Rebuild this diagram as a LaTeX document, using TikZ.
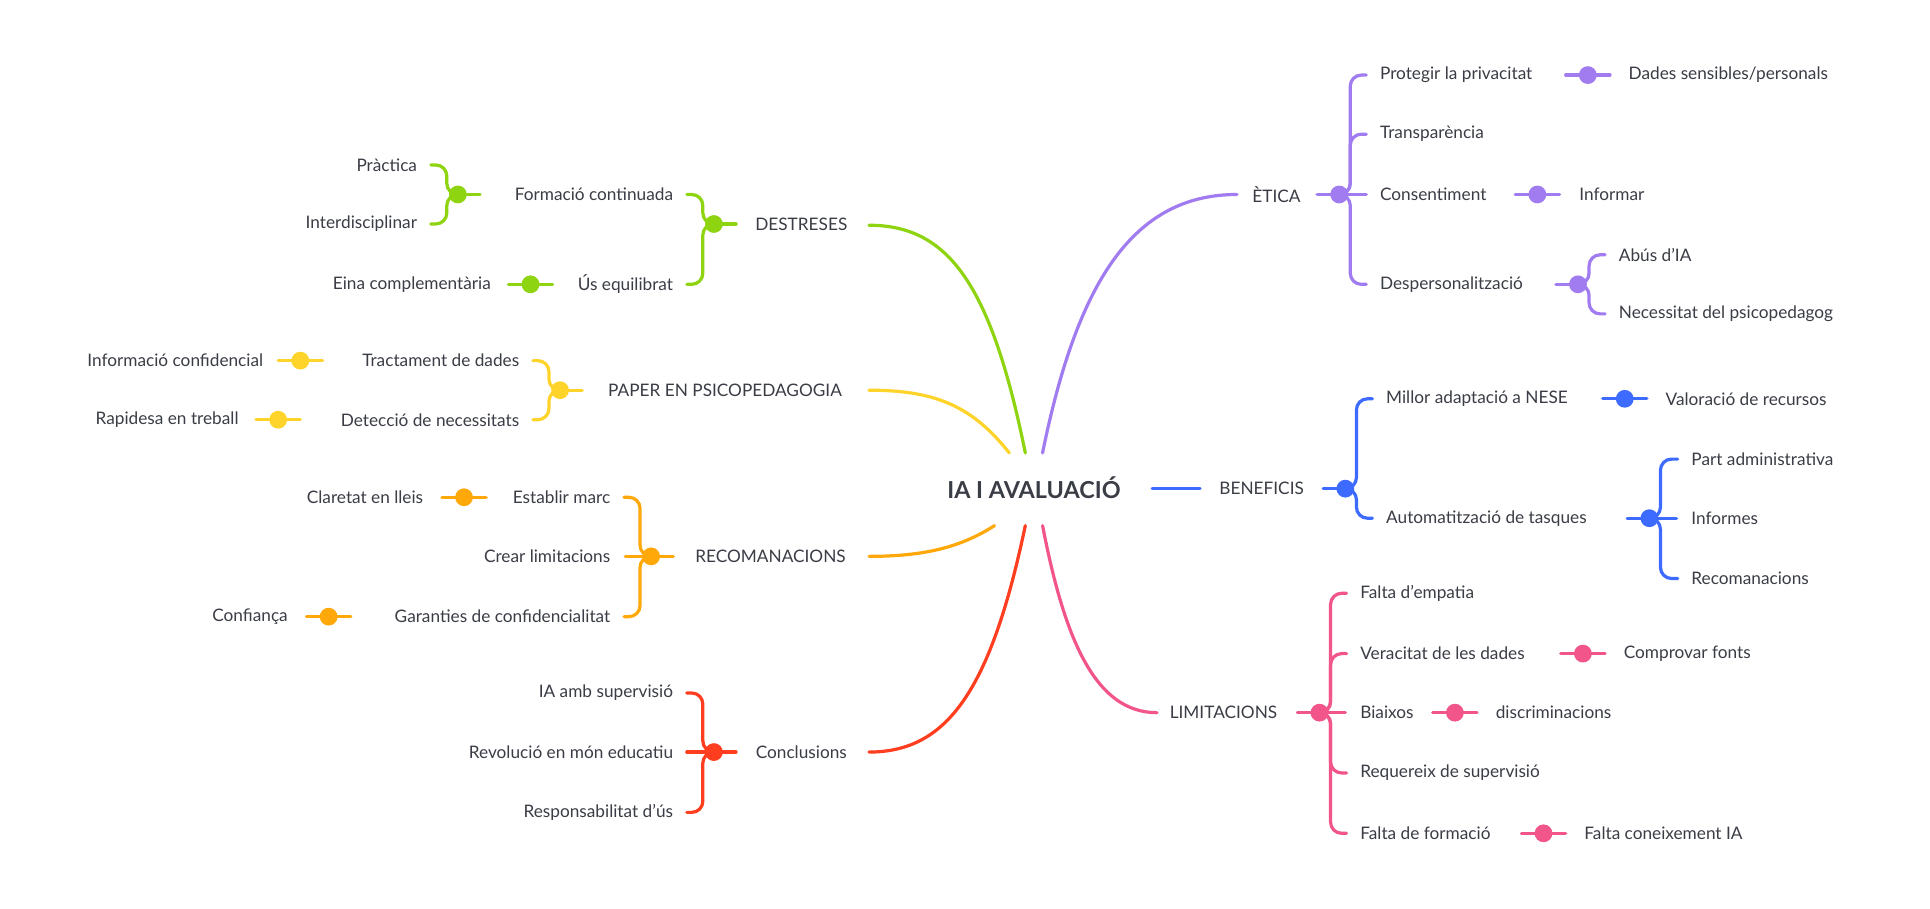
\documentclass[tikz,border=0pt]{standalone}
\usepackage{fontspec}
\setmainfont{Lato}
\definecolor{tc}{HTML}{3A3D45}
\definecolor{cg}{HTML}{8FD410}
\definecolor{cy}{HTML}{FFD42A}
\definecolor{co}{HTML}{FFA80A}
\definecolor{cr}{HTML}{FF3D1F}
\definecolor{cp}{HTML}{A07CF0}
\definecolor{cb}{HTML}{3D6BFF}
\definecolor{ck}{HTML}{F2558A}
\tikzset{
 ln/.style={line width=2.6pt,line cap=round},
 jn/.style={circle,draw,fill=white,minimum size=12pt,inner sep=0pt,line width=2.4pt},
 tr/.style={anchor=west,text=tc,font=\fontsize{14}{16}\selectfont,inner sep=0pt},
 tl/.style={anchor=east,text=tc,font=\fontsize{14}{16}\selectfont,inner sep=0pt},
 tm/.style={text=tc,font=\fontsize{14}{16}\selectfont,inner sep=0pt}
}
% right bracket: color, cx, cy, tx, ty
\newcommand\brR[5]{\draw[ln,#1,rounded corners=9pt] (#2,#3) -- (#2+9,#3) |- (#4-11,#5);}
\newcommand\brL[5]{\draw[ln,#1,rounded corners=9pt] (#2,#3) -- (#2-9,#3) |- (#4+11,#5);}
\newcommand\seg[3]{\draw[ln,#1] (#2-18,#3) -- (#2+18,#3); \node[jn,#1] at (#2,#3) {};}
\newcommand\jun[3]{\node[jn,#1] at (#2,#3) {};}
\begin{document}
\begin{tikzpicture}[x=1pt,y=-1pt]
\useasboundingbox[fill=white] (0,0) rectangle (1568,738);
% main curves
\draw[ln,cg] (833,368) .. controls (805,230) and (770,183) .. (706,183);
\draw[ln,cy] (820,368) .. controls (790,330) and (760,317) .. (706,317);
\draw[ln,co] (808,427) .. controls (780,445) and (750,452) .. (706,452);
\draw[ln,cr] (833,427) .. controls (805,560) and (770,611) .. (706,611);
\draw[ln,cp] (847,368) .. controls (875,230) and (920,158) .. (1005,158);
\draw[ln,cb] (936,397) -- (975,397);
\draw[ln,ck] (847,427) .. controls (865,520) and (890,579) .. (940,579);
\node[text=tc,font=\fontsize{19}{22}\selectfont\bfseries] (root) at (840,396) {IA I AVALUACIÓ};
% ETICA
\node[tm] (etica) at (1037,158) {ÈTICA};
\draw[ln,cp] (1070,158) -- (1088,158);
\brR{cp}{1088}{158}{1121}{61}\brR{cp}{1088}{158}{1121}{109}\brR{cp}{1088}{158}{1121}{231}
\draw[ln,cp] (1088,158) -- (1110,158);
\jun{cp}{1088}{158}
\node[tr] at (1121,61) {Protegir la privacitat};
\seg{cp}{1290}{61}\node[tr] at (1323,61) {Dades sensibles/personals};
\node[tr] at (1121,109) {Transparència};
\node[tr] at (1121,158) {Consentiment};
\seg{cp}{1249}{158}\node[tr] at (1283,158) {Informar};
\node[tr] at (1121,231) {Despersonalització};
\draw[ln,cp] (1264,231) -- (1282,231);
\brR{cp}{1282}{231}{1315}{207}\brR{cp}{1282}{231}{1315}{255}
\jun{cp}{1282}{231}
\node[tr] at (1315,207) {Abús d'IA};
\node[tr] at (1315,255) {Necessitat del psicopedagog};
% BENEFICIS
\node[tm] (ben) at (1025,397) {BENEFICIS};
\draw[ln,cb] (1075,397) -- (1093,397);
\brR{cb}{1093}{397}{1126}{324}\brR{cb}{1093}{397}{1126}{421}
\jun{cb}{1093}{397}
\node[tr] at (1126,324) {Millor adaptació a NESE};
\seg{cb}{1320}{324}\node[tr] at (1353,324) {Valoració de recursos};
\node[tr] at (1126,421) {Automatització de tasques};
\draw[ln,cb] (1322,421) -- (1362,421);
\brR{cb}{1340}{421}{1374}{373}\brR{cb}{1340}{421}{1374}{470}
\jun{cb}{1340}{421}
\node[tr] at (1374,373) {Part administrativa};
\node[tr] at (1374,421) {Informes};
\node[tr] at (1374,470) {Recomanacions};
% LIMITACIONS
\node[tm] (lim) at (994,579) {LIMITACIONS};
\draw[ln,ck] (1054,579) -- (1093,579);
\brR{ck}{1072}{579}{1105}{482}\brR{ck}{1072}{579}{1105}{531}\brR{ck}{1072}{579}{1105}{628}\brR{ck}{1072}{579}{1105}{677}
\jun{ck}{1072}{579}
\node[tr] at (1105,482) {Falta d'empatia};
\node[tr] at (1105,531) {Veracitat de les dades};
\seg{ck}{1286}{531}\node[tr] at (1319,531) {Comprovar fonts};
\node[tr] at (1105,579) {Biaixos};
\seg{ck}{1182}{579}\node[tr] at (1215,579) {discriminacions};
\node[tr] at (1105,628) {Requereix de supervisió};
\node[tr] at (1105,677) {Falta de formació};
\seg{ck}{1254}{677}\node[tr] at (1287,677) {Falta coneixement IA};
% DESTRESES
\node[tm] (des) at (651,182) {DESTRESES};
\draw[ln,cg] (598,182) -- (580,182);
\brL{cg}{580}{182}{547}{158}\brL{cg}{580}{182}{547}{231}
\jun{cg}{580}{182}
\node[tl] at (547,158) {Formació continuada};
\draw[ln,cg] (390,158) -- (372,158);
\brL{cg}{372}{158}{339}{134}\brL{cg}{372}{158}{339}{182}
\jun{cg}{372}{158}
\node[tl] at (339,134) {Pràctica};
\node[tl] at (339,182) {Interdisciplinar};
\node[tl] at (547,231) {Ús equilibrat};
\seg{cg}{431}{231}\node[tl] at (399,231) {Eina complementària};
% PAPER
\node[tm] (pap) at (589,317) {PAPER EN PSICOPEDAGOGIA};
\draw[ln,cy] (473,317) -- (455,317);
\brL{cy}{455}{317}{422}{293}\brL{cy}{455}{317}{422}{341}
\jun{cy}{455}{317}
\node[tl] at (422,293) {Tractament de dades};
\seg{cy}{244}{293}\node[tl] at (214,293) {Informació confidencial};
\node[tl] at (422,341) {Detecció de necessitats};
\seg{cy}{226}{341}\node[tl] at (194,341) {Rapidesa en treball};
% RECOMANACIONS
\node[tm] (rec) at (626,452) {RECOMANACIONS};
\draw[ln,co] (547,452) -- (508,452);
\brL{co}{529}{452}{496}{404}\brL{co}{529}{452}{496}{501}
\jun{co}{529}{452}
\node[tl] at (496,404) {Establir marc};
\seg{co}{377}{404}\node[tl] at (344,404) {Claretat en lleis};
\node[tl] at (496,452) {Crear limitacions};
\node[tl] at (496,501) {Garanties de confidencialitat};
\seg{co}{267}{501}\node[tl] at (234,501) {Confiança};
% CONCLUSIONS
\node[tm] (con) at (651,611) {Conclusions};
\draw[ln,cr] (598,611) -- (558,611);
\brL{cr}{580}{611}{547}{563}\brL{cr}{580}{611}{547}{660}
\jun{cr}{580}{611}
\node[tl] at (547,563) {IA amb supervisió};
\node[tl] at (547,611) {Revolució en món educatiu};
\node[tl] at (547,660) {Responsabilitat d'ús};
\end{tikzpicture}
\end{document}
